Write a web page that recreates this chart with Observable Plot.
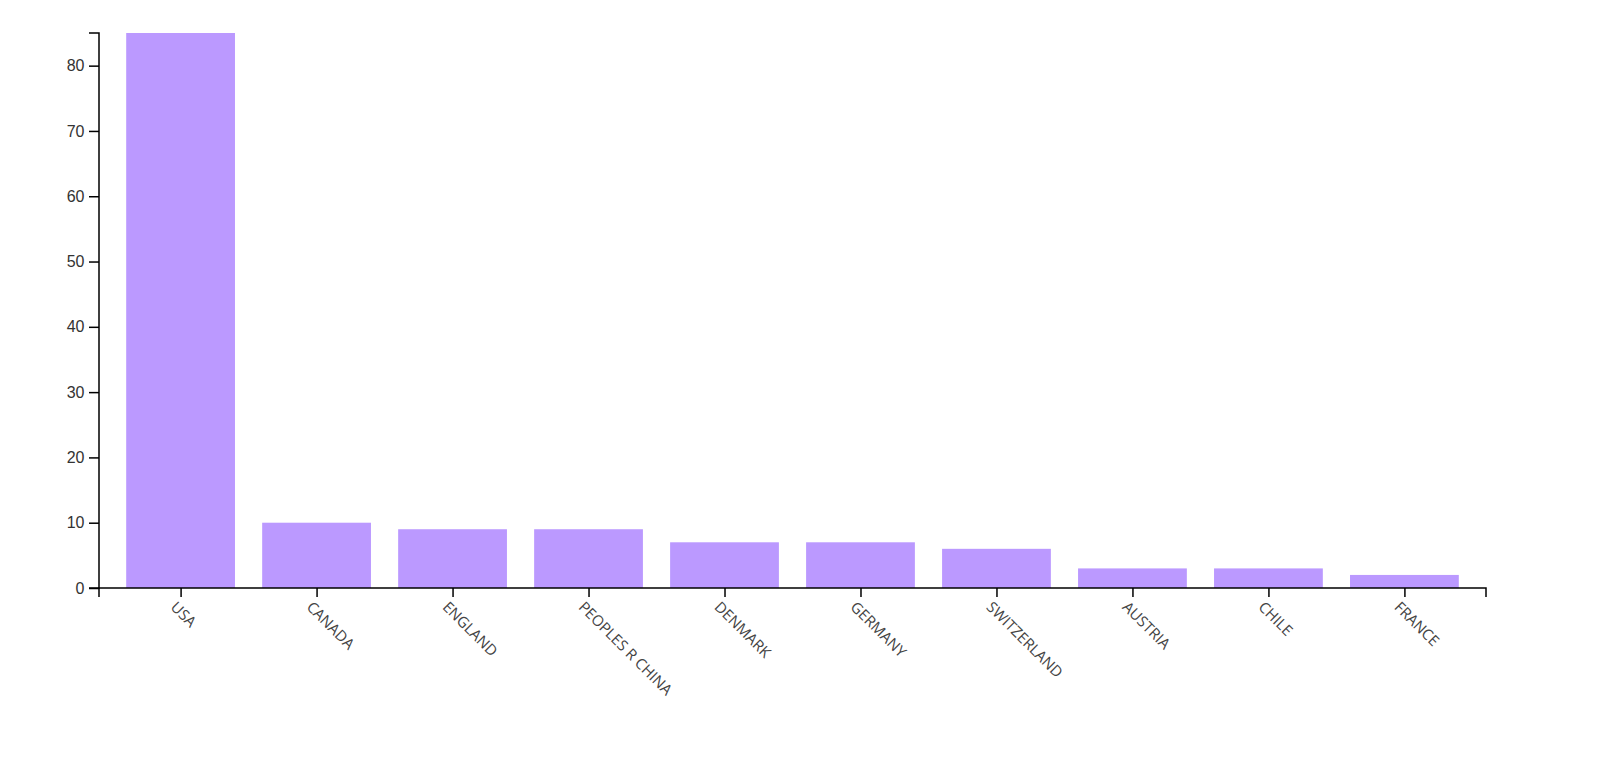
<!DOCTYPE html>
<html>
<head>
<meta charset="utf-8">
<script src="https://cdn.jsdelivr.net/npm/d3@7"></script>
<script src="https://cdn.jsdelivr.net/npm/@observablehq/plot@0.6"></script>
<style>
  html, body { margin: 0; padding: 0; background: #fff; }
  #chart svg { display: block; }
</style>
</head>
<body>
<div id="chart"></div>
<script>
const countries = ["USA", "CANADA", "ENGLAND", "PEOPLES R CHINA", "DENMARK", "GERMANY", "SWITZERLAND", "AUSTRIA", "CHILE", "FRANCE"];
const counts = [85, 10, 9, 9, 7, 7, 6, 3, 3, 2];
const yTicks = [0, 10, 20, 30, 40, 50, 60, 70, 80];
const yMax = 85;

const data = countries.map((c, i) => ({country: c, count: counts[i]}));

const domainPaths = (index, scales, values, dimensions) => {
  const {width, height, marginLeft, marginRight, marginBottom} = dimensions;
  const x0 = marginLeft, x1 = width - marginRight;
  const yTop = scales.y(yMax), yBase = scales.y(0);
  const g = d3.create("svg:g").attr("fill", "none").attr("stroke", "#000").attr("stroke-width", 1.5);
  g.append("path").attr("d", `M${x0 - 10},${yTop}H${x0}V${yBase}H${x0 - 10}`);
  g.append("path").attr("d", `M${x0},${yBase + 9}V${yBase}H${x1}V${yBase + 9}`);
  return g.node();
};

const chart = Plot.plot({
  width: 1600,
  height: 784,
  marginLeft: 99,
  marginRight: 114,
  marginTop: 33,
  marginBottom: 196,
  x: {type: "band", domain: countries, padding: 0.2, round: false, label: null},
  y: {domain: [0, yMax], label: null},
  marks: [
    Plot.barY(data, {x: "country", y: "count", fill: "#bb99ff"}),
    Plot.axisY({ticks: yTicks, tickSize: 10, tickPadding: 5, stroke: "#000", strokeWidth: 1.5,
      fontSize: 16, fontFamily: "Liberation Sans, Arial, sans-serif", fill: "#333", label: null}),
    Plot.axisX({tickSize: 9, tickFormat: () => "", stroke: "#000", strokeWidth: 1.5, label: null}),
    Plot.axisX({tickSize: 0, tickRotate: 45, tickPadding: 13, dx: -8, dy: 3,
      fontSize: 15, fontFamily: "Open Sans, sans-serif", fill: "#444", label: null}),
    domainPaths
  ]
});
document.getElementById("chart").append(chart);
</script>
</body>
</html>
